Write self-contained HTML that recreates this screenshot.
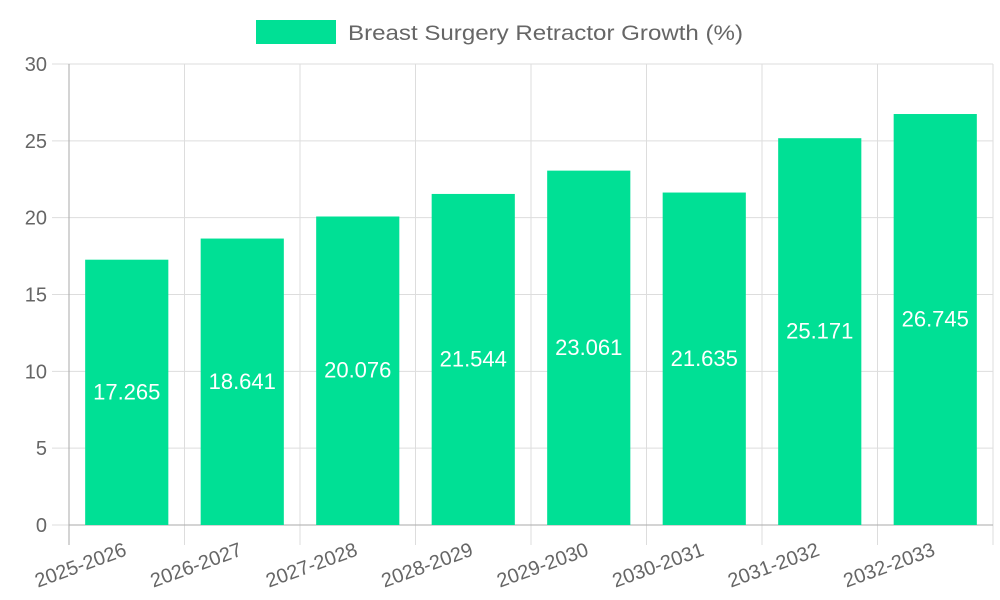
<!DOCTYPE html>
<html><head><meta charset="utf-8"><style>
html,body{margin:0;padding:0;background:#fff;}
svg{display:block;font-family:"Liberation Sans",sans-serif;}
</style></head><body>
<svg id="chart" width="1000" height="600" viewBox="0 0 1000 600">
  <g>
    <rect x="256" y="20" width="80" height="24" fill="#00e095"/>
    <text x="348" y="40" font-size="21" fill="#666" textLength="395" lengthAdjust="spacingAndGlyphs">Breast Surgery Retractor Growth (%)</text>
  </g>
  <g id="grid"></g>
  <g id="bars"></g>
  <g id="labels"></g>
</svg>
<script>
const categories = ["2025-2026","2026-2027","2027-2028","2028-2029","2029-2030","2030-2031","2031-2032","2032-2033"];
const values = [17.265, 18.641, 20.076, 21.544, 23.061, 21.635, 25.171, 26.745];
const yTicks = [0, 5, 10, 15, 20, 25, 30];

const NS = "http://www.w3.org/2000/svg";
const plotLeft = 69, plotRight = 993, plotTop = 64, plotBottom = 525, yMax = 30;
const band = (plotRight - plotLeft) / categories.length;
const xCenter = i => plotLeft + band * (i + 0.5);
const yScale = v => plotBottom - (v / yMax) * (plotBottom - plotTop);
const barW = band * 0.72;

function mk(tag, attrs, parent) {
  const e = document.createElementNS(NS, tag);
  for (const k in attrs) e.setAttribute(k, attrs[k]);
  parent.appendChild(e);
  return e;
}
const grid = document.getElementById('grid');
const bars = document.getElementById('bars');
const labels = document.getElementById('labels');

yTicks.forEach(t => {
  const l = mk('line', {x1: 52, x2: plotRight, y1: yScale(t), y2: yScale(t), stroke: '#ddd', 'stroke-width': 1}, grid);
  
  
  const tx = mk('text', {x: 47, y: yScale(t) + 7, 'text-anchor': 'end', 'font-size': 20, fill: '#666'}, labels);
  tx.textContent = t;
  
  
});
for (let i = 0; i <= categories.length; i++) {
  const x = plotLeft + band * i;
  const l = mk('line', {x1: x, x2: x, y1: plotTop, y2: plotBottom + 20, stroke: i === 0 ? '#aaa' : '#ddd', 'stroke-width': 1}, grid);
  
  
}
const ax = mk('line', {x1: plotLeft, x2: plotRight, y1: plotBottom, y2: plotBottom, stroke: '#aaa', 'stroke-width': 1}, grid);



categories.forEach((c, i) => {
  const v = values[i];
  const r = mk('rect', {x: xCenter(i) - barW / 2, y: yScale(v), width: barW, height: plotBottom - yScale(v), fill: '#00e095'}, bars);
  
  
  const vl = mk('text', {x: xCenter(i), y: (yScale(v) + plotBottom) / 2 + 7, 'text-anchor': 'middle', 'font-size': 22, fill: '#fff'}, labels);
  vl.textContent = v.toFixed(3);
  
  
  const cx = xCenter(i) + 1, cy = plotBottom + 30;
  const xl = mk('text', {x: cx, y: cy, 'text-anchor': 'end', 'font-size': 20, fill: '#666', transform: `rotate(-20 ${cx} ${cy})`}, labels);
  xl.textContent = c;
  
  
});
</script>
</body></html>
